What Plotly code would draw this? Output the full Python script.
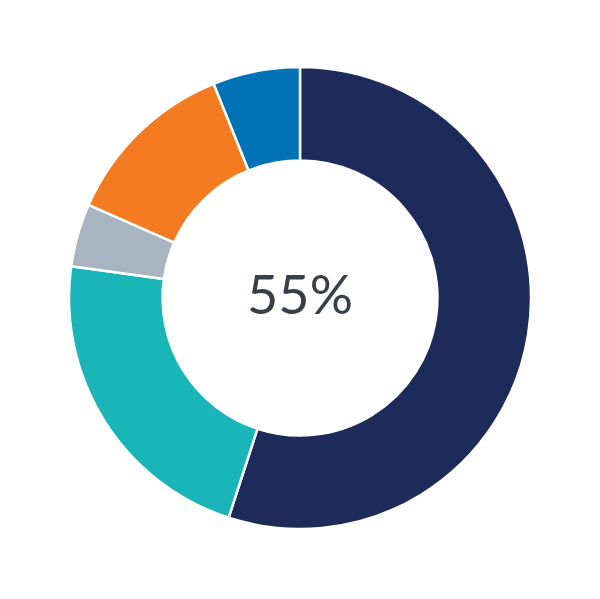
import plotly.graph_objects as go

labels = ["A", "B", "C", "D", "E"]
values = [55, 22.2, 4.4, 12.3, 6.1]
colors = ["#1c2b5a", "#1ab5b8", "#a9b4c2", "#f47b20", "#0072b5"]
center_text = "55%"

fig = go.Figure(go.Pie(
    labels=labels,
    values=values,
    sort=False,
    direction="clockwise",
    rotation=0,
    hole=0.595,
    marker=dict(colors=colors, line=dict(color="white", width=2.5)),
    textinfo="none",
    hoverinfo="label+percent",
    showlegend=False,
))

fig.update_layout(
    width=600, height=599,
    margin=dict(l=61, r=77, t=59, b=78),
    paper_bgcolor="white",
    plot_bgcolor="white",
    annotations=[dict(
        text=center_text, x=0.5, y=0.5, xref="paper", yref="paper",
        showarrow=False, yshift=5,
        font=dict(family="Lato", size=54, color="#37404a"),
    )],
)

fig.write_html("out.html")
